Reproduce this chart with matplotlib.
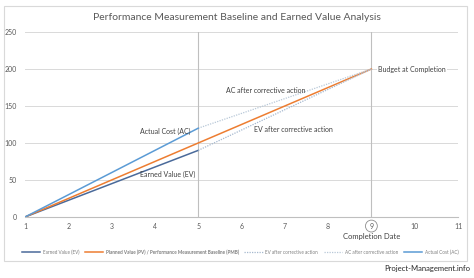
import matplotlib
matplotlib.use("Agg")
import matplotlib.pyplot as plt
from matplotlib.patches import Rectangle

plt.rcParams['font.family'] = ['Lato', 'DejaVu Sans']

# Data
ev_x = [1, 2, 3, 4, 5]
ev_y = [0, 22.5, 45, 67.5, 90]
ac_x = [1, 2, 3, 4, 5]
ac_y = [0, 30, 60, 90, 120]
pv_x = [1, 2, 3, 4, 5, 6, 7, 8, 9]
pv_y = [0, 25, 50, 75, 100, 125, 150, 175, 200]
ev_after_x = [5, 9]
ev_after_y = [90, 200]
ac_after_x = [5, 9]
ac_after_y = [120, 200]
x_ticks = [1, 2, 3, 4, 5, 6, 7, 8, 9, 10, 11]
y_ticks = [0, 50, 100, 150, 200, 250]
v_lines = [5, 9]

W, H = 474, 278
fig = plt.figure(figsize=(W / 100, H / 100), dpi=100)
fig.patch.set_facecolor('white')

# outer chart border
fig.add_artist(Rectangle((4 / W, 1 - 261 / H), (467 - 4) / W, (261 - 6) / H,
                         transform=fig.transFigure, fill=False,
                         edgecolor='#d9d9d9', linewidth=0.8))

left, right, top, bottom = 25, 458, 32, 217
ax = fig.add_axes([left / W, 1 - bottom / H, (right - left) / W, (bottom - top) / H])
ax.set_xlim(1, 11)
ax.set_ylim(0, 250)
for s in ['top', 'right', 'left']:
    ax.spines[s].set_visible(False)
ax.spines['bottom'].set_color('#bfbfbf')
ax.spines['bottom'].set_linewidth(0.8)
ax.set_yticks(y_ticks)
ax.set_xticks(x_ticks)
ax.set_xticklabels([str(v) for v in x_ticks])
ax.tick_params(axis='both', length=0, labelsize=5, labelcolor='#595959', pad=4)
ax.tick_params(axis='y', pad=6)
for yv in y_ticks[1:]:
    ax.axhline(yv, color='#d9d9d9', linewidth=0.7, zorder=0)
for xv in v_lines:
    ax.axvline(xv, color='#bfbfbf', linewidth=0.8, zorder=0)

c_ev = '#4a6a9a'
c_ac = '#5b9bd5'
c_pv = '#ed7d31'
c_dot = '#a5b8cf'

l_ev, = ax.plot(ev_x, ev_y, color=c_ev, lw=1.1, label='Earned Value (EV)')
l_pv, = ax.plot(pv_x, pv_y, color=c_pv, lw=1.1,
                label='Planned Value (PV) / Performance Measurement Baseline (PMB)')
l_eva, = ax.plot(ev_after_x, ev_after_y, color=c_dot, lw=0.9, ls=(0, (1, 1)),
                 label='EV after corrective action')
l_aca, = ax.plot(ac_after_x, ac_after_y, color='#b8c8d8', lw=0.9, ls=(0, (1, 1)),
                 label='AC after corrective action')
l_ac, = ax.plot(ac_x, ac_y, color=c_ac, lw=1.1, label='Actual Cost (AC)')

# circled 9 on the x axis
for lab in ax.get_xticklabels():
    if lab.get_text() == '9':
        lab.set_bbox(dict(boxstyle='circle,pad=0.35', facecolor='none',
                          edgecolor='#8c8c8c', linewidth=0.6))

tc = '#404040'
ax.text(9, -26, 'Completion Date', ha='center', va='center', fontsize=5.5, color=tc)
ax.text(4.25, 116, 'Actual Cost (AC)', ha='center', va='center', fontsize=5, color=tc)
ax.text(4.3, 58, 'Earned Value (EV)', ha='center', va='center', fontsize=5, color=tc)
ax.text(6.55, 171, 'AC after corrective action', ha='center', va='center', fontsize=5, color=tc)
ax.text(7.2, 118, 'EV after corrective action', ha='center', va='center', fontsize=5, color=tc)
ax.text(9.15, 200, 'Budget at Completion', ha='left', va='center', fontsize=5, color=tc,
        bbox=dict(facecolor='white', edgecolor='none', pad=1))

fig.text(237 / W, 1 - 18 / H, 'Performance Measurement Baseline and Earned Value Analysis',
         ha='center', va='center', fontsize=7.5, color='#595959')

leg = fig.legend(handles=[l_ev, l_pv, l_eva, l_aca, l_ac], loc='center',
                 bbox_to_anchor=(240 / W, 1 - 252 / H), ncol=5, frameon=False,
                 fontsize=3.3, handlelength=4, columnspacing=1.2, handletextpad=0.6,
                 labelcolor='#7f7f7f')
for t in leg.get_texts():
    if t.get_text().startswith('Planned'):
        t.set_fontweight('bold')

fig.text(470 / W, 1 - 269 / H, 'Project-Management.info', ha='right', va='center',
         fontsize=5.5, color='#262626')

fig.savefig('out.png', dpi=100)
